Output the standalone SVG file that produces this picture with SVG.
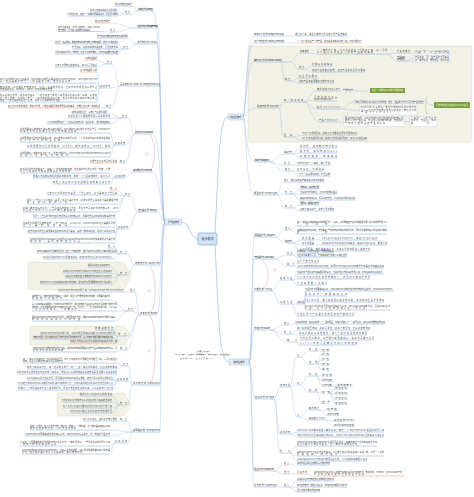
<svg xmlns="http://www.w3.org/2000/svg" width="474" height="497" viewBox="0 0 474 497">
<style>
text{font-family:"Noto Sans CJK SC","Noto Sans",sans-serif;fill:#363636;font-size:2px}
.n{font-size:2.2px;fill:#1e1e1e}
.u{fill:none;stroke:#6b9de0;stroke-width:0.45}
.o{fill:none;stroke:#ef8450;stroke-width:0.45}
.c{fill:none;stroke:#98b8e6;stroke-width:0.38}
.m{fill:none;stroke:#a9c1e3;stroke-width:0.8}
.rel{fill:none;stroke:#e69aa8;stroke-width:0.5}
.rl{fill:#d0687a;font-size:1.6px}
.bd{fill:#f2f1e5;stroke:#d8d2b0;stroke-width:0.4}
.bx{fill:#fff;stroke:#a7b8cf;stroke-width:0.3}
.gb{fill:#7c9f3a}
.gt{fill:#fff}
</style>
<rect width="474" height="497" fill="#fff"/>
<g id="boundaries">
<path class="bd" d="M30 262H124L131 275.5L124 289.5H30Q28 289.5 28 287.5V264Q28 262 30 262Z"/>
<path class="bd" d="M32 326H124L131 335.5L124 345H32Q30 345 30 343V328Q30 326 32 326Z"/>
<path class="bd" d="M59 393H124L131 404.5L124 416H59Q57 416 57 414V395Q57 393 59 393Z"/>
<rect class="bd" x="248" y="46" width="224" height="96" rx="2"/>
</g>
<g id="connectors">
<path class="m" d="M198 239C190 239 190 222 182 222"/>
<path class="m" d="M215 233C219 160 219 117 228 117"/>
<path class="m" d="M215 245C219 320 219 362 229 362"/>
<path class="c" d="M165 222C161 222 161 11 153 11"/>
<path class="c" d="M165 222C161 222 161 28 158 28"/>
<path class="c" d="M165 222C161 222 161 44 157 44"/>
<path class="c" d="M165 222C161 222 161 86 160 86"/>
<path class="c" d="M165 222C161 222 161 134 153 134"/>
<path class="c" d="M165 222C161 222 161 172 152 172"/>
<path class="c" d="M165 222C161 222 161 212 157 212"/>
<path class="c" d="M165 222C161 222 161 265 160 265"/>
<path class="c" d="M165 222C161 222 161 315 157 315"/>
<path class="c" d="M165 222C161 222 161 385 160 385"/>
<path class="c" d="M165 222C161 222 161 432 160 432"/>
<path class="c" d="M138 11C135 11 135 6 132 6M138 11C134 11 134 14 130 14M125 14C121 14 121 12 117 12M125 14C121 14 121 16 118 16"/>
<path class="c" d="M137 28C123 28 123 23 110 23M137 28C126 28 126 32 115 32M110 32C105 32 105 31.5 100 31.5"/>
<path class="c" d="M137 44C132 44 132 38 128 38M137 44C132 44 132 49 128 49M123 49C120 49 120 44 118 44M123 49H118M123 49C120 49 120 54 118 54"/>
<path class="c" d="M120 86C116 86 116 64 112 64M120 86C115 86 115 88 110 88M120 86C116 86 116 108 111 108M107 64C102 64 102 60 97 60M107 64C102 64 102 67 97 67M100 88C98 88 98 72 97 72M100 88C98 88 98 83 97 83M100 88C98 88 98 91 97 91M100 88C98 88 98 102 97 102M106 108H100"/>
<path class="c" d="M135 134C131 134 131 118 127 118M135 134C130 134 130 145 125 145M135 134C130 134 130 163 125 163M122 118C117 118 117 114 107 114M122 118H110M122 118C116 118 116 124 110 124M115 145C112 145 112 133 110 133M115 145C112 145 112 142 110 142M115 145C112 145 112 148 110 148M115 145C112 145 112 157 110 157M120 163H117"/>
<path class="c" d="M133 172C129 172 129 178 125 178M115 178C112 178 112 173 110 173M115 178H110M115 178C112 178 112 184 110 184"/>
<path class="c" d="M138 212C134 212 134 196 130 196M138 212C133 212 133 229 128 229M125 196C121 196 121 190 117 190M125 196C121 196 121 195 117 195M125 196C121 196 121 204 118 204M125 196C121 196 121 212 118 212M118 229C116 229 116 218 115 218M118 229C116 229 116 227 115 227M118 229C116 229 116 233 115 233M118 229C116 229 116 243 115 243"/>
<path class="c" d="M135 265C131 265 131 254 127 254M135 265C131 265 131 275 127 275M120 254C117 254 117 248 115 248M120 254H117M120 254C116 254 116 259 113 259M120 275C115 275 115 267 110 267M120 275C116 275 116 273 112 273M120 275C116 275 116 278 112 278M120 275C116 275 116 284 112 284"/>
<path class="c" d="M140 315C137 315 137 292 135 292M140 315C136 315 136 311 133 311M140 315C134 315 134 336 126 336M140 315C133 315 133 350 127 350M130 292H125M128 311C119 311 119 300 110 300M128 311H117M128 311C121 311 121 321 115 321M118 336C115 336 115 330 113 330M118 336C116 336 116 335 115 335M118 336C115 336 115 339 113 339M118 336C117 336 117 343 117 343M120 350C118 350 118 352 117 352"/>
<path class="c" d="M133 385C130 385 130 366 128 366M133 385C130 385 130 381 128 381M133 385C130 385 130 405 127 405M123 366C120 366 120 363 117 363M123 366C120 366 120 369 117 369M117 381C115 381 115 374 117 374M117 381C115 381 115 380 113 380M117 381C115 381 115 385 113 385M117 381C115 381 115 390 113 390M120 405C116 405 116 396 112 396M120 405C116 405 116 402 112 402M120 405C116 405 116 408 112 408M120 405C116 405 116 413 112 413"/>
<path class="c" d="M133 432C130 432 130 421 127 421M133 432C121 432 121 430 110 430M133 432C121 432 121 436 110 436M133 432C130 432 130 443 127 443M120 421H117M115 443C112 443 112 446 110 446M115 443C112 443 112 454 110 454"/>
<path class="c" d="M243 117C246 117 246 36 254 36M243 117C246 117 246 43 254 43M243 117C246 117 246 62 254 62M243 117C246 117 246 108 257 108M243 117C246 117 246 162 254 162M243 117C246 117 246 195 254 195M284 36H295M284 43H297"/>
<path class="c" d="M290 62C295 62 295 53 300 53M290 62C295 62 295 69 299 69M282 63C283 70 283 81 285 81M309 53C313 53 313 54 317 54M387 54C392 54 392 53 397 53M387 54C392 54 392 61 397 61M410 53H414M405 61C410 61 410 58 414 58M405 61H414M304 69C308 69 308 66 312 66M304 69C308 69 308 72 312 72M290 81C295 81 295 78 299 78M290 81C295 81 295 83 299 83"/>
<path class="c" d="M279 108C281 108 281 102 284 102M279 108C281 108 281 137 284 137M303 102C310 102 310 91 317 91M303 102C308 102 308 100 314 100M303 102C310 102 310 109 317 109M303 102C311 102 311 122 319 122M340 91H342M354 91H370M340 109C347 109 347 102 354 102M340 109C350 109 350 110.5 360 110.5M337 122H344M404 121.5H410M292 137C297 137 297 135 302 135M292 137C297 137 297 140 302 140M425 102C427 102 427 105 434 105"/>
<path class="c" d="M269 162C276 162 276 154 284 154M269 162C276 162 276 165 284 165M269 162C276 162 276 171 285 171M292 154C296 154 296 148 300 148M292 154C296 154 296 153 300 153M292 154C296 154 296 158 300 158M290 165H297M290 171H297M290 171C295 171 295 176 299 176"/>
<path class="c" d="M277 195C280 195 280 182 284 182M277 195C281 195 281 194 285 194M277 195C281 195 281 208 285 208M292 194C296 194 296 189 300 189M292 194H300M292 194C296 194 296 200 300 200M292 208C296 208 296 205 300 205M292 208C296 208 296 211 300 211"/>
<path class="c" d="M249 362C252 362 252 237 254 237M249 362C252 362 252 259 254 259M249 362C252 362 252 291 254 291M249 362C252 362 252 330 254 330M249 362C252 362 252 399 255 399M249 362C252 362 252 471 254 471M249 362C252 362 252 487 254 487"/>
<path class="c" d="M275 237C280 237 280 230 285 230M275 237C280 237 280 243 285 243M290 230C294 230 294 226 297 226M290 230C294 230 294 234 297 234M292 243C297 243 297 240 302 240M292 243C297 243 297 245 302 245M292 243C296 243 296 251 300 251M314 240H322M314 245H322"/>
<path class="c" d="M274 259C280 259 280 255 287 255M274 259C280 259 280 266 287 266M292 255C295 255 295 253 297 253M292 255C295 255 295 257 297 257M294 266C296 266 296 263 297 263M294 266C296 266 296 268 297 268"/>
<path class="c" d="M272 291C276 291 276 280 280 280M272 291C276 291 276 304 280 304M292 280C295 280 295 274 297 274M292 280C295 280 295 279 297 279M292 280C295 280 295 285 297 285M292 304H297M292 304C295 304 295 316 297 316M304 304C305 304 305 291 305 291M304 304C305 304 305 296 305 296M304 304C305 304 305 302 305 302M304 304C305 304 305 310 305 310"/>
<path class="c" d="M270 330C277 330 277 325 284 325M270 330C277 330 277 334 284 334M270 330C278 330 278 342 287 342M289 325C292 325 292 324 295 324M291 334C294 334 294 330 297 330M291 334C295 334 295 335 299 335M297 342C298 342 298 340 300 340M297 342C298 342 298 345 300 345"/>
<path class="c" d="M274 399C277 399 277 387 280 387M274 399C277 399 277 434 280 434M274 399C277 399 277 453 280 453M290 387C293 387 293 357 297 357M290 387C293 387 293 385 297 385M290 387C293 387 293 417 297 417M300 357C304 357 304 351 309 351M300 357C304 357 304 364 309 364M317 351H322M317 364C319 364 319 355 322 355M317 364C319 364 319 360 322 360M317 364H322M317 364C319 364 319 370 322 370M300 385C304 385 304 376 309 376M300 385C304 385 304 392 309 392M317 376H322M317 376C319 376 319 381 322 381M317 376C319 376 319 386 322 386M332 386H337M317 392C319 392 319 393 322 393M317 392C319 392 319 403 322 403M330 393C332 393 332 389 335 389M330 393C332 393 332 394 335 394M330 393C332 393 332 399 335 399M330 393C332 393 332 404 335 404M300 417C304 417 304 410 309 410M300 417C304 417 304 420 309 420M319 410C323 410 323 410 327 410M319 410C323 410 323 415 327 415M325 420C329 420 329 421 334 421M325 420C329 420 329 426 334 426M290 434C293 434 293 432 297 432M290 434C293 434 293 437 297 437M290 453C293 453 293 446 297 446M290 453C293 453 293 456 297 456M290 453C293 453 293 461 297 461"/>
<path class="c" d="M274 471C279 471 279 465 284 465M274 471C279 471 279 474 284 474M289 465H297M289 474H297M307 474C310 474 310 476 314 476M277 487H284M289 487C293 487 293 481 297 481M289 487H297M289 487C293 487 293 492 297 492"/>
<path class="rel" d="M150 135C156 140 156 165 150 171"/>
<path class="rel" d="M150 266C157 275 157 305 150 314"/>
<path class="rel" d="M150 316C157 325 157 375 150 384"/>
<path class="rel" d="M262 260C270 265 270 285 262 290"/>
</g>
<g id="center"><rect x="198" y="233" width="19" height="12" rx="1.5" fill="#d3e4f8" stroke="#6f9fdc" stroke-width="0.6"/><text x="207.5" y="240.4" text-anchor="middle" style="font-size:3px;fill:#222">设计模式</text></g>
<g id="behavioral"><rect x="165" y="219" width="17" height="6" rx="1" fill="#e3eefb" stroke="#8db1e2" stroke-width="0.4"/><text x="173.5" y="222.8" text-anchor="middle" style="font-size:2.3px;fill:#222">行为型模式</text></g>
<g id="creational"><rect x="228" y="114" width="15" height="6" rx="1" fill="#e3eefb" stroke="#8db1e2" stroke-width="0.4"/><text x="235.5" y="117.8" text-anchor="middle" style="font-size:2.3px;fill:#222">创建型模式</text></g>
<g id="structural"><rect x="229" y="359" width="20" height="6" rx="1" fill="#e3eefb" stroke="#8db1e2" stroke-width="0.4"/><text x="239" y="362.8" text-anchor="middle" style="font-size:2.3px;fill:#222">结构型模式</text></g>
<g id="note"><text x="203" y="351.8" text-anchor="middle" style="font-size:1.7px">设计模式六大原则</text><text x="202.5" y="355.4" text-anchor="middle" textLength="55" style="font-size:1.7px">单一职责原则、开闭原则、里氏替换原则、依赖倒置原则、接口隔离原则</text><text x="196.5" y="359" text-anchor="middle" textLength="33" style="font-size:1.7px">迪米特法则（最少知道原则）</text></g>
<g id="rel-labels"><text class="rl" x="147" y="153.5" text-anchor="middle">区别</text><text class="rl" x="149" y="290.5" text-anchor="middle">区别</text><text class="rl" x="149" y="350.5" text-anchor="middle">区别</text><text class="rl" x="275" y="270" text-anchor="middle">区别</text></g>

<g id="L1"><text class="n" x="138" y="10.4" textLength="15">策略模式 Strategy</text><path class="u" d="M138 11H153"/></g>
<g id="L1a"><text x="115" y="5.4" textLength="17">定义算法族分别封装</text><path class="u" d="M115 6H132"/></g>
<g id="L1b"><text x="125" y="13.4" textLength="5">优点</text><path class="u" d="M125 14H130"/></g>
<g id="L1b1"><text x="90" y="11.4" textLength="27">算法可自由切换避免多重判断</text><path class="u" d="M90 12H117"/></g>
<g id="L1b2"><text x="68" y="15.4" textLength="50">扩展性良好，增加一个策略只需实现接口，符合开闭原则</text><path class="u" d="M68 16H118"/></g>

<g id="L2"><text class="n" x="137" y="27.4" textLength="21">模板方法模式 Template Method</text><path class="u" d="M137 28H158"/></g>
<g id="L2a"><text x="95" y="22.4" textLength="15">定义算法的骨架</text><path class="o" d="M95 23H110"/></g>
<g id="L2b"><text x="110" y="31.4" textLength="5">优点</text><path class="u" d="M110 32H115"/></g>
<g id="L2b1"><text x="58" y="28.3" textLength="42">封装不变部分，扩展可变部分，提取公共代码</text><text x="58" y="30.9" textLength="32">便于维护，行为由父类控制子类实现</text><path class="u" d="M58 31.5H100"/></g>

<g id="L3"><text class="n" x="137" y="43.4" textLength="20">访问者模式 Visitor</text><path class="u" d="M137 44H157"/></g>
<g id="L3a"><text x="97" y="37.4" textLength="31">封装作用于数据结构中各元素的操作</text><path class="u" d="M97 38H128"/></g>
<g id="L3b"><text x="123" y="48.4" textLength="5">优点</text><path class="u" d="M123 49H128"/></g>
<g id="L3b1"><text x="55" y="43.4" textLength="63">符合单一职责原则，数据结构和作用于结构上的操作解耦，操作可以独立变化</text><path class="u" d="M55 44H118"/></g>
<g id="L3b2"><text x="72" y="48.4" textLength="46">扩展性好，增加新的操作很容易，灵活性非常高</text><path class="u" d="M72 49H118"/></g>
<g id="L3b3"><text x="55" y="53.4" textLength="63">具体元素对访问者公布细节，违反了迪米特原则，具体元素变更比较困难</text><path class="u" d="M55 54H118"/></g>

<g id="L4"><text class="n" x="120" y="85.4" textLength="40">责任链模式 Chain of Responsibility</text><path class="u" d="M120 86H160"/></g>
<g id="L4a"><text x="107" y="63.4" textLength="5">优点</text><path class="u" d="M107 64H112"/></g>
<g id="L4a1"><text x="85" y="59.4" textLength="12">请求处理解耦</text><path class="o" d="M85 60H97"/></g>
<g id="L4a2"><text x="55" y="66.4" textLength="42">请求者不需知道由谁处理，链可以灵活组合</text><path class="u" d="M55 67H97"/></g>
<g id="L4b"><text x="100" y="87.4" textLength="10">使用场景</text><path class="u" d="M100 88H110"/></g>
<g id="L4b1"><text x="80" y="71.4" textLength="17">多个对象处理同一请求</text><path class="o" d="M80 72H97"/></g>
<g id="L4b2"><text x="0" y="79.8" textLength="97">Servlet中的Filter过滤器链，SpringMVC的拦截器HandlerInterceptor，Netty的Pipeline</text><text x="0" y="82.4" textLength="70">每个处理器都持有下一个处理器的引用，依次处理请求</text><path class="u" d="M0 83H97"/></g>
<g id="L4b3"><text x="0" y="87.8" textLength="97">审批流程：请假根据天数由组长、经理、总监依次处理，直到有对象处理该请求为止</text><text x="0" y="90.4" textLength="52">日志级别处理：DEBUG、INFO、ERROR依次传递</text><path class="u" d="M0 91H97"/></g>
<g id="L4b4"><text x="0" y="96.2" textLength="97">在责任链模式里，很多对象由每一个对象对其下家的引用而连接起来形成一条链，请求在</text><text x="0" y="98.8" textLength="97">这个链上传递，直到链上的某一个对象决定处理此请求，发出请求的客户端并不知道链上</text><text x="0" y="101.4" textLength="60">的哪一个对象最终处理这个请求，系统可以动态地重新组织</text><path class="u" d="M0 102H97"/></g>
<g id="L4c"><text x="106" y="107.4" textLength="5">缺点</text><path class="u" d="M106 108H111"/></g>
<g id="L4c1"><text x="8" y="107.4" textLength="92">链过长时会影响性能，调试不方便，可能出现循环调用而导致系统崩溃，不能保证请求一定被处理</text><path class="o" d="M8 108H100"/></g>

<g id="L5"><text class="n" x="135" y="133.4" textLength="18">命令模式 Command</text><path class="u" d="M135 134H153"/></g>
<g id="L5a"><text x="122" y="117.4" textLength="5">优点</text><path class="u" d="M122 118H127"/></g>
<g id="L5a1"><text x="72" y="113.4" textLength="35">降低系统耦合度，请求者与接收者解耦</text><path class="u" d="M72 114H107"/></g>
<g id="L5a2"><text x="68" y="117.4" textLength="42">新的命令可以很容易地加入到系统中去</text><path class="u" d="M68 118H110"/></g>
<g id="L5a3"><text x="47" y="123.4" textLength="63">可以比较容易地设计一个命令队列和宏命令（组合命令），支持撤销和恢复</text><path class="u" d="M47 124H110"/></g>
<g id="L5b"><text x="115" y="144.4" textLength="10">使用场景</text><path class="u" d="M115 145H125"/></g>
<g id="L5b1"><text x="20" y="129.8" textLength="90">系统需要将请求调用者和请求接收者解耦，使得调用者和接收者不直接交互，Runnable</text><text x="20" y="132.4" textLength="56">线程池中的任务就是命令模式的典型应用</text><path class="u" d="M20 133H110"/></g>
<g id="L5b2"><text x="20" y="138.8" textLength="90">系统需要在不同的时间指定请求、将请求排队和执行请求，一个命令对象和请求的初始调用</text><text x="20" y="141.4" textLength="40">者可以有不同的生命期</text><path class="u" d="M20 142H110"/></g>
<g id="L5b3"><text x="27" y="147.4" textLength="83">系统需要支持命令的撤销（Undo）操作和恢复（Redo）操作</text><path class="u" d="M27 148H110"/></g>
<g id="L5b4"><text x="20" y="153.8" textLength="90">系统需要将一组操作组合在一起，即支持宏命令，JdbcTemplate中的StatementCallback</text><text x="20" y="156.4" textLength="48">使用了命令模式的思想</text><path class="u" d="M20 157H110"/></g>
<g id="L5c"><text x="120" y="162.4" textLength="5">缺点</text><path class="u" d="M120 163H125"/></g>
<g id="L5c1"><text x="90" y="162.4" textLength="27">可能产生过多的具体命令类</text><path class="o" d="M90 163H117"/></g>

<g id="L6"><text class="n" x="133" y="171.4" textLength="19">备忘录模式 Memento</text><path class="u" d="M133 172H152"/></g>
<g id="L6a"><text x="115" y="177.4" textLength="10">使用场景</text><path class="u" d="M115 178H125"/></g>
<g id="L6a1"><text x="20" y="169.8" textLength="90">在不破坏封装性的前提下，捕获一个对象的内部状态，并在该对象之外保存这个状态，以便</text><text x="20" y="172.4" textLength="50">以后可将该对象恢复到原先保存的状态</text><path class="u" d="M20 173H110"/></g>
<g id="L6a2"><text x="33" y="177.4" textLength="77">需要保存和恢复数据的相关状态场景，提供一个可回滚的操作，如Ctrl+Z</text><path class="u" d="M33 178H110"/></g>
<g id="L6a3"><text x="53" y="183.4" textLength="57">数据库连接的事务管理就是用的备忘录模式</text><path class="u" d="M53 184H110"/></g>

<g id="L7"><text class="n" x="138" y="211.4" textLength="19">迭代器模式 Iterator</text><path class="u" d="M138 212H157"/></g>
<g id="L7a"><text x="125" y="195.4" textLength="5">优点</text><path class="u" d="M125 196H130"/></g>
<g id="L7a0"><text x="110" y="189.4" textLength="7">定义</text><path class="o" d="M110 190H117"/></g>
<g id="L7a1"><text x="47" y="194.4" textLength="70">它支持以不同的方式遍历一个聚合对象，迭代器简化了聚合类</text><path class="u" d="M47 195H117"/></g>
<g id="L7a2"><text x="27" y="200.8" textLength="91">在同一个聚合上可以有多个遍历，在迭代器模式中，增加新的聚合类和迭代器类都很方便</text><text x="27" y="203.4" textLength="40">无须修改原有代码</text><path class="u" d="M27 204H118"/></g>
<g id="L7a3"><text x="23" y="208.8" textLength="95">提供一种方法顺序访问一个聚合对象中的各个元素，而又不暴露该对象的内部表示，Java</text><text x="23" y="211.4" textLength="52">集合框架中的Iterator就是典型实现</text><path class="u" d="M23 212H118"/></g>
<g id="L7b"><text x="118" y="228.4" textLength="10">使用场景</text><path class="u" d="M118 229H128"/></g>
<g id="L7b1"><text x="33" y="217.4" textLength="82">访问一个聚合对象的内容而无须暴露它的内部表示，需要为聚合对象提供多种遍历方式</text><path class="u" d="M33 218H115"/></g>
<g id="L7b2"><text x="23" y="223.8" textLength="92">为遍历不同的聚合结构提供一个统一的接口，ArrayList、HashMap中的迭代器都是具体</text><text x="23" y="226.4" textLength="44">迭代器角色的实现</text><path class="u" d="M23 227H115"/></g>
<g id="L7b3"><text x="28" y="232.4" textLength="87">由于增加新的聚合类需要对应增加新的迭代器类，类的个数成对增加，增加了系统复杂性</text><path class="u" d="M28 233H115"/></g>
<g id="L7b4"><text x="30" y="239.8" textLength="85">MyBatis中的Cursor接口以及DefaultCursor的CursorIterator内部类就是迭代器模式</text><text x="30" y="242.4" textLength="50">的应用，遍历查询结果集合</text><path class="u" d="M30 243H115"/></g>

<g id="L8"><text class="n" x="135" y="264.4" textLength="25">观察者模式 Observer</text><path class="u" d="M135 265H160"/></g>
<g id="L8a"><text x="120" y="253.4" textLength="7">优点</text><path class="u" d="M120 254H127"/></g>
<g id="L8a0"><text x="108" y="247.4" textLength="7">定义</text><path class="u" d="M108 248H115"/></g>
<g id="L8a1"><text x="37" y="252.4" textLength="80">观察者和被观察者是抽象耦合的，建立一套触发机制，目标与观察者之间建立了抽象的耦合关系</text><path class="u" d="M37 253H117"/></g>
<g id="L8a2"><text x="43" y="258.4" textLength="70">Subject和Observer是依赖关系（Dependency Relationship）</text><path class="u" d="M43 259H113"/></g>
<g id="L8b"><text x="120" y="274.4" textLength="7">特点</text><path class="u" d="M120 275H127"/></g>
<g id="L8b1"><text x="88" y="266.4" textLength="22">解耦Subject和观察者</text><path class="u" d="M88 267H110"/></g>
<g id="L8b2"><text x="63" y="272.4" textLength="49">Subject持有观察者Observer的集合可增加删除</text><path class="u" d="M63 273H112"/></g>
<g id="L8b3"><text x="65" y="277.4" textLength="47">Subject状态改变时通知所有的Observer观察者</text><path class="u" d="M65 278H112"/></g>
<g id="L8b4"><text x="40" y="283.4" textLength="72">Observer可以直接获取Subject的状态，目标对象只需要维护观察者列表即可</text><path class="u" d="M40 284H112"/></g>

<g id="L9"><text class="n" x="140" y="314.4" textLength="17">状态模式 State</text><path class="u" d="M140 315H157"/></g>
<g id="L9a"><text x="130" y="291.4" textLength="5">定义</text><path class="u" d="M130 292H135"/></g>
<g id="L9a1"><text x="58" y="291.4" textLength="67">Context持有State的引用（Association Relationship）</text><path class="u" d="M58 292H125"/></g>
<g id="L9b"><text x="128" y="310.4" textLength="5">优点</text><path class="u" d="M128 311H133"/></g>
<g id="L9b1"><text x="32" y="296.8" textLength="78">将所有与某个状态有关的行为放到一个类中，并且可以方便地增加新的状态，只需要改变对象</text><text x="32" y="299.4" textLength="30">状态即可改变行为</text><path class="u" d="M32 300H110"/></g>
<g id="L9b2"><text x="32" y="305.2" textLength="85">每个State实现类都定义了Context对象的行为，通过状态的迁移使得对象在不同状态下执行不同</text><text x="32" y="307.8" textLength="85">的操作，允许状态转换逻辑与状态对象合成一体，而不是某一个巨大的条件语句块，可以让多</text><text x="32" y="310.4" textLength="45">个环境对象共享一个状态对象</text><path class="u" d="M32 311H117"/></g>
<g id="L9b3"><text x="32" y="317.8" textLength="83">根据Context中持有的State对象不同，执行相应的方法，调用Context的request方法即可实现</text><text x="32" y="320.4" textLength="48">状态的切换和行为的改变</text><path class="u" d="M32 321H115"/></g>
<g id="L9c"><text x="118" y="335.4" textLength="8">特点</text><path class="u" d="M118 336H126"/></g>
<g id="L9c1"><text x="95" y="329.4" textLength="18">状态决定行为</text><path class="u" d="M95 330H113"/></g>
<g id="L9c2"><text x="40" y="334.4" textLength="75">Context持有State的引用，State的具体实现决定了Context的行为</text><path class="u" d="M40 335H115"/></g>
<g id="L9c3"><text x="33" y="338.4" textLength="80">状态模式把受环境改变的对象行为包装在不同的状态对象里，每个状态对象都是抽象状态类的子类</text><path class="u" d="M33 339H113"/></g>
<g id="L9c4"><text x="70" y="342.4" textLength="47">状态模式的使用必然会增加系统类和对象的个数</text><path class="o" d="M70 343H117"/></g>
<g id="L9d"><text x="120" y="349.4" textLength="7">缺点</text><path class="u" d="M120 350H127"/></g>
<g id="L9d1"><text x="33" y="348.8" textLength="84">状态模式对开闭原则的支持并不太好，增加新的状态类需要修改那些负责状态转换的源代码，否</text><text x="33" y="351.4" textLength="30">则无法切换到新增状态</text><path class="u" d="M33 352H117"/></g>

<g id="L10"><text class="n" x="133" y="384.4" textLength="27">中介者模式 Mediator</text><path class="u" d="M133 385H160"/></g>
<g id="L10a"><text x="123" y="365.4" textLength="5">优点</text><path class="u" d="M123 366H128"/></g>
<g id="L10a1"><text x="23" y="359.8" textLength="94">用一个中介对象来封装一系列的对象交互，中介者使各对象不需要显式地相互引用，从而使其耦合</text><text x="23" y="362.4" textLength="40">松散，而且可以独立地改变它们之间的交互</text><path class="u" d="M23 363H117"/></g>
<g id="L10a2"><text x="27" y="368.4" textLength="90">降低了类的复杂度，将一对多转化成了一对一，各个类之间的解耦，符合迪米特原则</text><path class="u" d="M27 369H117"/></g>
<g id="L10b"><text x="117" y="380.4" textLength="11">使用场景</text><path class="u" d="M117 381H128"/></g>
<g id="L10b1"><text x="17" y="373.4" textLength="100">系统中对象之间存在比较复杂的引用关系，导致它们之间的依赖关系结构混乱而且难以复用该对象</text><path class="u" d="M17 374H117"/></g>
<g id="L10b2"><text x="27" y="379.4" textLength="86">Colleague之间不直接交互，而是通过Mediator来间接通信，降低了同事对象之间的耦合</text><path class="u" d="M27 380H113"/></g>
<g id="L10b3"><text x="18" y="384.4" textLength="95">MVC框架中的Controller就是Model和View的中介者，Timer类中的schedule方法也是中介者</text><path class="u" d="M18 385H113"/></g>
<g id="L10b4"><text x="18" y="389.4" textLength="95">想通过一个中间类来封装多个类中的行为，而又不想生成太多的子类，可以使用中介者模式</text><path class="u" d="M18 390H113"/></g>
<g id="L10c"><text x="120" y="404.4" textLength="7">特点</text><path class="u" d="M120 405H127"/></g>
<g id="L10c1"><text x="80" y="395.4" textLength="32">解耦Colleague之间的关系</text><path class="u" d="M80 396H112"/></g>
<g id="L10c2"><text x="62" y="401.4" textLength="50">Mediator持有所有Colleague的引用来转发消息</text><path class="u" d="M62 402H112"/></g>
<g id="L10c3"><text x="63" y="407.4" textLength="49">每个Colleague都只持有Mediator的引用</text><path class="u" d="M63 408H112"/></g>
<g id="L10c4"><text x="70" y="412.4" textLength="42">Mediator通过集中化的方式协调交互</text><path class="u" d="M70 413H112"/></g>

<g id="L11"><text class="n" x="133" y="431.4" textLength="27">解释器模式 Interpreter</text><path class="u" d="M133 432H160"/></g>
<g id="L11a"><text x="120" y="420.4" textLength="7">缺点</text><path class="u" d="M120 421H127"/></g>
<g id="L11a1"><text x="83" y="420.4" textLength="34">中介者会庞大，变得复杂难以维护</text><path class="u" d="M83 421H117"/></g>
<g id="L11b"><text x="30" y="426.8" textLength="80">给定一个语言，定义它的文法的一种表示，并定义一个解释器，这个解释器使用该表示来</text><text x="30" y="429.4" textLength="46">解释语言中的句子，可扩展性比较好</text><path class="u" d="M30 430H110"/></g>
<g id="L11c"><text x="25" y="435.4" textLength="85">Context中持有需要被解释的文本表达式，Expression负责解释，是一种类行为型模式</text><path class="u" d="M25 436H110"/></g>
<g id="L11d"><text x="115" y="442.4" textLength="12">使用场景</text><path class="u" d="M115 443H127"/></g>
<g id="L11d1"><text x="20" y="442.8" textLength="90">可以将一个需要解释执行的语言中的句子表示为一个抽象语法树，一些重复出现的问题可以用</text><text x="20" y="445.4" textLength="36">一种简单的语言来进行表达</text><path class="u" d="M20 446H110"/></g>
<g id="L11d2"><text x="22" y="450.8" textLength="88">Spring中的SpelExpressionParser，正则表达式的解析，SQL语法的解析都使用了解释器</text><text x="22" y="453.4" textLength="60">模式，但是解释器模式会引起类膨胀，执行效率较低</text><path class="u" d="M22 454H110"/></g>

<g id="C1"><text class="n" x="254" y="35.4" textLength="30">简单工厂模式 Simple Factory</text><path class="u" d="M254 36H284"/></g>
<g id="C1a"><text x="295" y="35.4" textLength="52">通过工厂类，根据参数的不同创建不同产品的实例</text><path class="u" d="M295 36H347"/></g>
<g id="C2"><text class="n" x="254" y="42.4" textLength="30">工厂方法模式 Factory Method</text><path class="u" d="M254 43H284"/></g>
<g id="C2a"><text x="297" y="42.4" textLength="65">一个工厂类只生产一种产品，由子类决定实例化哪个类，不修改原工厂</text><path class="o" d="M297 43H362"/></g>
<g id="C3"><text class="n" x="254" y="61.4" textLength="28">抽象工厂模式 Abstract Factory</text><path class="u" d="M254 62H290"/></g>
<g id="C3a"><text x="300" y="52.4" textLength="9">基本概念</text><path class="u" d="M300 53H309"/></g>
<g id="C3a1"><text x="317" y="50.8" textLength="70">一个抽象工厂类，可以派生出多个具体工厂类，每个具体</text><text x="317" y="53.4" textLength="56">工厂类可以创建多个具体产品类的实例</text><path class="u" d="M317 54H387"/></g>
<g id="C3a2"><text x="397" y="52.4" textLength="13">产品族概念</text><path class="u" d="M397 53H410"/></g>
<g id="C3a21"><rect class="bx" x="414" y="50.6" width="36" height="3"/><text x="415" y="52.6" textLength="34">产品族：同一个工厂生产的不同产品</text></g>
<g id="C3a3"><text x="397" y="57.8" textLength="8">产品等级</text><text x="397" y="60.4" textLength="8">结构概念</text><path class="u" d="M397 61H405"/></g>
<g id="C3a31"><rect class="bx" x="414" y="55.6" width="36" height="3"/><text x="415" y="57.6" textLength="34">产品等级：同一类产品的不同实现</text></g>
<g id="C3a32"><rect class="bx" x="414" y="59" width="36" height="3"/><text x="415" y="61" textLength="34">如：海尔冰箱、美的冰箱、格力冰箱</text></g>
<g id="C3b"><text x="299" y="68.4" textLength="5">优点</text><path class="u" d="M299 69H304"/></g>
<g id="C3b1"><text x="312" y="65.4" textLength="20">分离接口和实现</text><path class="u" d="M312 66H332"/></g>
<g id="C3b2"><text x="312" y="71.4" textLength="53">切换产品族变得容易，增加产品族符合开闭原则</text><path class="u" d="M312 72H365"/></g>
<g id="C3c"><text x="285" y="80.4" textLength="5">缺点</text><path class="u" d="M285 81H290"/></g>
<g id="C3c1"><text x="299" y="77.4" textLength="18">符合开闭原则</text><path class="u" d="M299 78H317"/></g>
<g id="C3c2"><text x="299" y="82.4" textLength="35">增加产品等级需要修改所有工厂类</text><path class="u" d="M299 83H334"/></g>

<g id="C4"><text class="n" x="257" y="107.4" textLength="22">建造者模式 Builder</text><path class="u" d="M257 108H279"/></g>
<g id="C4a"><text x="284" y="101.4" textLength="19">四个角色组成</text><path class="u" d="M284 102H303"/></g>
<g id="C4a1"><text x="317" y="90.4" textLength="23">抽象建造者Builder</text><path class="u" d="M317 91H340"/></g>
<g id="C4a11"><rect class="bx" x="342" y="89.2" width="12" height="3"/><text x="343" y="91.2" textLength="10">产品的组件</text></g>
<g id="C4a12"><rect class="gb" x="370" y="88" width="35" height="5" rx="0.5"/><text class="gt" x="372" y="91.2" textLength="31">给出一个抽象接口以规范产品的建造</text></g>
<g id="C4a2"><text x="314" y="97.8" textLength="23">具体建造者负责</text><text x="314" y="100.4" textLength="18">ConcreteBuilder</text><path class="u" d="M314 101H337"/></g>
<g id="C4a3"><text x="317" y="108.4" textLength="23">指挥者Director</text><path class="u" d="M317 109H340"/></g>
<g id="C4a31"><rect class="bx" x="354" y="100.6" width="71" height="3"/><text x="355" y="102.6" textLength="69">调用具体建造者来创建复杂对象的各个部分，在指导者中不涉及具体产品的信息</text></g>
<g id="C4a32"><rect class="bx" x="360" y="106" width="57" height="9"/><text x="361" y="108.2" textLength="55">Director负责按照一定顺序调用Builder的方法</text><text x="361" y="110.8" textLength="55">只负责保证对象各部分完整创建或按某种顺序创建</text><text x="361" y="113.4" textLength="30">产品Product</text></g>
<g id="C4a4"><text x="319" y="121.4" textLength="18">产品Product</text><path class="u" d="M319 122H337"/></g>
<g id="C4a41"><rect class="bx" x="344" y="116.5" width="60" height="10"/><text x="345" y="118.8" textLength="58">要创建的复杂对象，ConcreteBuilder创建该产品的内部表示</text><text x="345" y="121.4" textLength="58">并定义它的装配过程，包含定义组成部件的类，包括将这</text><text x="345" y="124" textLength="40">些部件装配成最终产品的接口</text></g>
<g id="C4a42"><rect class="bx" x="410" y="116.5" width="27" height="10"/><text x="411" y="118.8" textLength="25">一般是一个较为复杂</text><text x="411" y="121.4" textLength="25">的对象，包含多个组成</text><text x="411" y="124" textLength="18">部件</text></g>
<g id="C4a5"><path d="M428 97Q426 97 426 99V104Q426 105.5 425 105.5Q426 105.5 426 107V112Q426 114 428 114" fill="none" stroke="#9bc15a" stroke-width="0.4"/><rect class="gb" x="434" y="102" width="36" height="6" rx="0.5"/><text class="gt" x="436" y="105.6" textLength="32">具体的建造过程由Director指挥</text></g>
<g id="C4b"><text x="284" y="136.4" textLength="8">区别</text><path class="u" d="M284 137H292"/></g>
<g id="C4b1"><text x="302" y="134.4" textLength="55">与工厂模式的区别：建造者模式更关注零件装配的顺序</text><path class="u" d="M302 135H357"/></g>
<g id="C4b2"><text x="302" y="139.4" textLength="65">工厂模式关注的是创建，建造者模式关注的是组装，两者可以结合使用</text><path class="u" d="M302 140H367"/></g>

<g id="C5"><text class="n" x="254" y="161.4" textLength="15">单例模式 Singleton</text><path class="u" d="M254 162H269"/></g>
<g id="C5a"><text x="284" y="153.4" textLength="8">实现方式</text><path class="u" d="M284 154H292"/></g>
<g id="C5a1"><text x="300" y="147.4" textLength="37">饿汉式，类加载时就初始化</text><path class="u" d="M300 148H337"/></g>
<g id="C5a2"><text x="300" y="152.4" textLength="37">懒汉式，双重校验锁DCL</text><path class="u" d="M300 153H337"/></g>
<g id="C5a3"><text x="300" y="157.4" textLength="37">静态内部类，枚举实现</text><path class="u" d="M300 158H337"/></g>
<g id="C5b"><text x="284" y="164.4" textLength="6">优点</text><path class="u" d="M284 165H290"/></g>
<g id="C5b1"><text x="297" y="164.4" textLength="33">内存中只有一个实例，减少开销</text><path class="u" d="M297 165H330"/></g>
<g id="C5c"><text x="285" y="170.4" textLength="5">缺点</text><path class="u" d="M285 171H290"/></g>
<g id="C5c1"><text x="297" y="170.4" textLength="27">没有接口，不能继承</text><path class="u" d="M297 171H324"/></g>
<g id="C5c2"><text x="299" y="175.4" textLength="31">与单一职责原则冲突，扩展困难</text><path class="u" d="M299 176H330"/></g>

<g id="C6"><text class="n" x="254" y="194.4" textLength="23">原型模式 Prototype</text><path class="u" d="M254 195H277"/></g>
<g id="C6a"><text x="284" y="181.4" textLength="40">定义：通过复制现有实例来创建新的实例</text><path class="u" d="M284 182H324"/></g>
<g id="C6b"><text x="285" y="193.4" textLength="7">优点</text><path class="u" d="M285 194H292"/></g>
<g id="C6b1"><text x="300" y="188.4" textLength="19">性能提高，逃避构造函数</text><path class="u" d="M300 189H319"/></g>
<g id="C6b2"><text x="300" y="193.4" textLength="37">直接在内存中拷贝，比new性能好很多</text><path class="u" d="M300 194H337"/></g>
<g id="C6b3"><text x="300" y="199.4" textLength="55">实现Cloneable接口，重写clone方法，可以简化对象的创建过程</text><path class="u" d="M300 200H355"/></g>
<g id="C6c"><text x="285" y="207.4" textLength="7">缺点</text><path class="u" d="M285 208H292"/></g>
<g id="C6c1"><text x="300" y="204.4" textLength="19">需要为每个类配备克隆方法</text><path class="u" d="M300 205H319"/></g>
<g id="C6c2"><text x="300" y="210.4" textLength="34">深拷贝实现复杂，违背了开闭原则</text><path class="u" d="M300 211H334"/></g>

<g id="S1"><text class="n" x="254" y="236.4" textLength="21">适配器模式 Adapter</text><path class="u" d="M254 237H275"/></g>
<g id="S1a"><text x="285" y="229.4" textLength="5">定义</text><path class="u" d="M285 230H290"/></g>
<g id="S1a1"><text x="297" y="222.8" textLength="90">将一个类的接口转换成客户希望的另外一个接口，使得原本由于接口不兼容而不能一起工作的那些类可以</text><text x="297" y="225.4" textLength="30">一起工作</text><path class="u" d="M297 226H387"/></g>
<g id="S1a2"><text x="297" y="230.8" textLength="90">主要解决在软件系统中，常常要将一些现存的对象放到新的环境中，而新环境要求的接口是现对象不能满</text><text x="297" y="233.4" textLength="30">足的</text><path class="u" d="M297 234H387"/></g>
<g id="S1b"><text x="285" y="242.4" textLength="7">实现方式</text><path class="u" d="M285 243H292"/></g>
<g id="S1b1"><text x="302" y="239.4" textLength="12">类适配器</text><path class="u" d="M302 240H314"/></g>
<g id="S1b11"><text x="322" y="239.4" textLength="55">Adapter继承Adaptee，实现Target接口</text><path class="u" d="M322 240H377"/></g>
<g id="S1b2"><text x="302" y="244.4" textLength="12">对象适配器</text><path class="u" d="M302 245H314"/></g>
<g id="S1b21"><text x="322" y="244.4" textLength="65">Adapter持有Adaptee的实例，实现Target接口，更加灵活</text><path class="u" d="M322 245H387"/></g>
<g id="S1b3"><text x="300" y="250.4" textLength="70">接口适配器：抽象类实现接口，子类选择性地覆盖父类的方法</text><path class="u" d="M300 251H370"/></g>

<g id="S2"><text class="n" x="254" y="258.4" textLength="20">装饰器模式 Decorator</text><path class="u" d="M254 259H274"/></g>
<g id="S2a"><text x="287" y="254.4" textLength="5">优点</text><path class="u" d="M287 255H292"/></g>
<g id="S2a1"><text x="297" y="252.4" textLength="37">动态地给一个对象添加一些额外的职责</text><path class="u" d="M297 253H334"/></g>
<g id="S2a2"><text x="297" y="256.4" textLength="50">比生成子类更为灵活，装饰类和被装饰类可以独立发展</text><path class="u" d="M297 257H347"/></g>
<g id="S2b"><text x="287" y="265.4" textLength="7">缺点</text><path class="u" d="M287 266H294"/></g>
<g id="S2b1"><text x="297" y="262.4" textLength="22">多层装饰比较复杂</text><path class="u" d="M297 263H319"/></g>
<g id="S2b2"><text x="297" y="267.4" textLength="87">Java IO流中的InputStream、BufferedInputStream就是装饰器模式的典型应用</text><path class="u" d="M297 268H384"/></g>

<g id="S3"><text class="n" x="254" y="290.4" textLength="18">代理模式 Proxy</text><path class="u" d="M254 291H272"/></g>
<g id="S3a"><text x="280" y="279.4" textLength="12">静态代理</text><path class="u" d="M280 280H292"/></g>
<g id="S3a1"><text x="297" y="273.4" textLength="87">代理对象与目标对象实现相同的接口，代理对象持有目标对象的引用（Proxy和RealSubject）</text><path class="u" d="M297 274H384"/></g>
<g id="S3a2"><text x="297" y="278.4" textLength="73">可以在不修改目标对象的前提下，对目标功能进行扩展</text><path class="u" d="M297 279H370"/></g>
<g id="S3a3"><text x="297" y="284.4" textLength="30">代理类需要手动编写</text><path class="u" d="M297 285H327"/></g>
<g id="S3b"><text x="280" y="303.4" textLength="12">动态代理</text><path class="u" d="M280 304H292"/></g>
<g id="S3b0"><text x="297" y="303.4" textLength="7">JDK代理</text><path class="u" d="M297 304H304"/></g>
<g id="S3b01"><text x="305" y="290.4" textLength="89">代理对象不需要实现接口，利用JDK的API动态地在内存中构建代理对象（InvocationHandler）</text><path class="u" d="M305 291H394"/></g>
<g id="S3b02"><text x="305" y="295.4" textLength="42">目标对象一定要实现接口</text><path class="u" d="M305 296H347"/></g>
<g id="S3b03"><text x="305" y="301.4" textLength="79">Cglib代理：通过继承目标类生成子类，在子类中拦截方法调用</text><path class="u" d="M305 302H384"/></g>
<g id="S3b04"><text x="305" y="306.8" textLength="85">Spring AOP中如果目标对象实现了接口，默认使用JDK动态代理，否则使用Cglib</text><text x="305" y="309.4" textLength="60">代理，也可以强制使用Cglib代理</text><path class="u" d="M305 310H390"/></g>
<g id="S3b1"><text x="297" y="315.4" textLength="57">代理模式与装饰器模式的区别在于控制访问</text><path class="u" d="M297 316H354"/></g>

<g id="S4"><text class="n" x="254" y="329.4" textLength="16">外观模式 Facade</text><path class="u" d="M254 330H270"/></g>
<g id="S4a"><text x="284" y="324.4" textLength="5">定义</text><path class="u" d="M284 325H289"/></g>
<g id="S4a1"><text x="295" y="323.4" textLength="90">为子系统中的一组接口提供一个一致的界面，外观模式定义了一个高层接口，使得子系统更加容易使用</text><path class="u" d="M295 324H385"/></g>
<g id="S4b"><text x="284" y="333.4" textLength="7">优点</text><path class="u" d="M284 334H291"/></g>
<g id="S4b1"><text x="297" y="329.4" textLength="73">减少系统相互依赖，提高灵活性，提高了安全性，符合迪米特法则</text><path class="u" d="M297 330H370"/></g>
<g id="S4b2"><text x="299" y="334.4" textLength="68">对客户屏蔽子系统组件，减少了客户处理的对象数目</text><path class="u" d="M299 335H367"/></g>
<g id="S4c"><text x="287" y="341.4" textLength="10">缺点</text><path class="o" d="M287 342H297"/></g>
<g id="S4c1"><text x="300" y="339.4" textLength="74">不符合开闭原则，如果要改东西很麻烦，继承重写都不合适</text><path class="u" d="M300 340H374"/></g>
<g id="S4c2"><text x="300" y="344.4" textLength="57">SLF4J日志门面就是外观模式的应用</text><path class="u" d="M300 345H357"/></g>

<g id="S5"><text class="n" x="255" y="398.4" textLength="19">桥接模式 Bridge</text><path class="u" d="M255 399H274"/></g>
<g id="S5a"><text x="280" y="386.4" textLength="10">结构示例</text><path class="u" d="M280 387H290"/></g>
<g id="S5a1"><text x="297" y="356.4" textLength="3">大</text><path class="u" d="M297 357H300"/></g>
<g id="S5a11"><text x="309" y="350.4" textLength="8">红色</text><path class="u" d="M309 351H317"/><rect class="bx" x="322" y="349.3" width="7" height="2.6"/><text x="322.5" y="351.1" textLength="6">毛笔</text></g>
<g id="S5a12"><text x="309" y="363.4" textLength="8">其他</text><path class="u" d="M309 364H317"/></g>
<g id="S5a13"><rect class="bx" x="322" y="353.3" width="7" height="2.6"/><text x="322.5" y="355.1" textLength="6">绿色</text><rect class="bx" x="322" y="358.3" width="7" height="2.6"/><text x="322.5" y="360.1" textLength="6">蓝色</text><rect class="bx" x="322" y="363.3" width="7" height="2.6"/><text x="322.5" y="365.1" textLength="6">黑色</text><rect class="bx" x="322" y="368.3" width="7" height="2.6"/><text x="322.5" y="370.1" textLength="6">白色</text></g>
<g id="S5a2"><text x="297" y="384.4" textLength="3">中</text><path class="u" d="M297 385H300"/></g>
<g id="S5a21"><text x="309" y="375.4" textLength="8">红色</text><path class="u" d="M309 376H317"/><rect class="bx" x="322" y="374.3" width="10" height="2.6"/><text x="322.5" y="376.1" textLength="9">中毛笔</text><rect class="bx" x="322" y="379.3" width="10" height="2.6"/><text x="322.5" y="381.1" textLength="9">绿中毛笔</text><rect class="bx" x="322" y="384.3" width="10" height="2.6"/><text x="322.5" y="386.1" textLength="9">蓝中毛笔</text><rect class="bx" x="337" y="384.3" width="15" height="2.6"/><text x="337.5" y="386.1" textLength="14">类的数量多</text></g>
<g id="S5a22"><text x="309" y="391.4" textLength="8">其他</text><path class="u" d="M309 392H317"/><rect class="bx" x="322" y="391.3" width="8" height="2.6"/><text x="322.5" y="393.1" textLength="7">颜色</text><rect class="bx" x="322" y="401.3" width="8" height="2.6"/><text x="322.5" y="403.1" textLength="7">型号</text><rect class="bx" x="335" y="387.3" width="12" height="2.6"/><text x="335.5" y="389.1" textLength="11">红色颜料</text><rect class="bx" x="335" y="392.3" width="12" height="2.6"/><text x="335.5" y="394.1" textLength="11">绿色颜料</text><rect class="bx" x="335" y="397.3" width="12" height="2.6"/><text x="335.5" y="399.1" textLength="11">蓝色颜料</text><rect class="bx" x="335" y="402.3" width="12" height="2.6"/><text x="335.5" y="404.1" textLength="11">黑色颜料</text></g>
<g id="S5a3"><text x="297" y="416.4" textLength="3">小</text><path class="u" d="M297 417H300"/></g>
<g id="S5a31"><text x="309" y="409.4" textLength="10">抽象部分</text><path class="u" d="M309 410H319"/><rect class="bx" x="327" y="408.3" width="10" height="2.6"/><text x="327.5" y="410.1" textLength="9">毛笔类</text><rect class="bx" x="327" y="413.3" width="12" height="2.6"/><text x="327.5" y="415.1" textLength="11">大中小毛笔</text></g>
<g id="S5a32"><text x="309" y="419.4" textLength="16">实现部分 Color</text><path class="u" d="M309 420H325"/><rect class="bx" x="334" y="419.3" width="20" height="2.6"/><text x="334.5" y="421.1" textLength="19">颜色接口Color</text><rect class="bx" x="334" y="424.3" width="20" height="2.6"/><text x="334.5" y="426.1" textLength="19">红绿蓝白黑颜色类</text></g>
<g id="S5b"><text x="280" y="433.4" textLength="10">使用场景</text><path class="u" d="M280 434H290"/></g>
<g id="S5b1"><text x="297" y="431.4" textLength="87">Abstraction抽象类定义抽象接口，拥有一个Implementor类型的对象引用</text><path class="u" d="M297 432H384"/></g>
<g id="S5b2"><text x="297" y="436.4" textLength="87">Implementor是实现部分的接口，ConcreteImplementor具体实现了该接口</text><path class="u" d="M297 437H384"/></g>
<g id="S5c"><text x="280" y="452.4" textLength="10">优点</text><path class="u" d="M280 453H290"/></g>
<g id="S5c1"><text x="297" y="442.8" textLength="80">Abstraction和Implementor之间是聚合关系，将抽象部分与它的实现部分分离</text><text x="297" y="445.4" textLength="60">使它们都可以独立地变化，是一种对象结构型模式</text><path class="u" d="M297 446H377"/></g>
<g id="S5c2"><text x="297" y="452.8" textLength="87">Abstraction不直接持有具体实现，可以通过组合代替继承减少子类个数，如果一个系统</text><text x="297" y="455.4" textLength="40">需要在两个维度变化</text><path class="u" d="M297 456H384"/></g>
<g id="S5c3"><text x="297" y="460.4" textLength="70">JDBC驱动DriverManager就是桥接模式，可以动态切换数据库驱动</text><path class="u" d="M297 461H367"/></g>

<g id="S6"><text class="n" x="254" y="470.4" textLength="20">组合模式 Composite</text><path class="o" d="M254 471H274"/></g>
<g id="S6a"><text x="284" y="464.4" textLength="5">定义</text><path class="o" d="M284 465H289"/></g>
<g id="S6a1"><text x="297" y="464.4" textLength="33">将对象组合成树形结构以表示部分整体</text><path class="u" d="M297 465H330"/></g>
<g id="S6b"><text x="284" y="473.4" textLength="5">特点</text><path class="o" d="M284 474H289"/></g>
<g id="S6b0"><text x="297" y="473.4" textLength="10">透明方式</text><path class="o" d="M297 474H307"/></g>
<g id="S6b1"><text x="314" y="472.8" textLength="90">Component接口中声明所有用来管理子对象的方法，包括add、remove、getChild等方法，</text><text x="314" y="475.4" textLength="50">叶子节点和树枝节点对外没有区别</text><path class="o" d="M314 476H404"/></g>

<g id="S7"><text class="n" x="254" y="486.4" textLength="23">享元模式 Flyweight</text><path class="u" d="M254 487H277"/></g>
<g id="S7a"><text x="284" y="486.4" textLength="5">定义</text><path class="u" d="M284 487H289"/></g>
<g id="S7a1"><text x="297" y="480.4" textLength="37">运用共享技术有效地支持大量细粒度的对象</text><path class="u" d="M297 481H334"/></g>
<g id="S7a2"><text x="297" y="486.4" textLength="50">String常量池、数据库连接池、Integer缓存都是享元模式</text><path class="u" d="M297 487H347"/></g>
<g id="S7a3"><text x="297" y="491.4" textLength="23">区分内部状态和外部状态</text><path class="u" d="M297 492H320"/></g>
</svg>
